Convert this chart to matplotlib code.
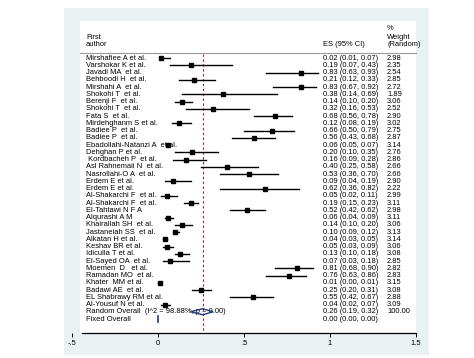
import numpy as np
import matplotlib
matplotlib.use('Agg')
import matplotlib.pyplot as plt
from matplotlib.patches import Rectangle, Polygon

plt.rcParams['font.family'] = ['Liberation Sans', 'DejaVu Sans']

# study data
authors = ['Mirshafiee A et al.', 'Varshokar K et al.', 'Javadi MA  et al.', 'Behboodi H  et al.',
           'Mirshahi A  et al.', 'Shokohi T  et al.', 'Berenji F  et al.', 'Shokohi T  et al.',
           'Fata S  et al.', 'Mirdehghanm S et al.', 'Badiee P  et al.', 'Badiee P  et al.',
           'Ebadollahi-Natanzi A  et al.', 'Dehghan P et al.', ' Kordbacheh P  et al.',
           'Asl Rahnemaii N  et al.', 'Nasrollahi-O A  et al.', 'Erdem E et al.', 'Erdem E et al.',
           'Al-Shakarchi F  et al.', 'Al-Shakarchi F  et al.', 'El-Tahtawi N F A', 'Alqurashi A M',
           'Khairallah SH  et al.', 'Jastaneiah SS  et al.', 'Alkatan H et al.', 'Keshav BR et al.',
           'Idiculla T et al.', 'El-Sayed OA  et al.', 'Moemen  D   et al.', 'Ramadan MO  et al.',
           'Khater  MM et al.', 'Badawi AE  et al.', 'EL Shabrawy RM et al.', 'Al-Yousuf N et al.']
es = [0.02, 0.19, 0.83, 0.21, 0.83, 0.38, 0.14, 0.32, 0.68, 0.12, 0.66, 0.56, 0.06, 0.20, 0.16,
      0.40, 0.53, 0.09, 0.62, 0.05, 0.19, 0.52, 0.06, 0.14, 0.10, 0.04, 0.05, 0.13, 0.07, 0.81,
      0.76, 0.01, 0.25, 0.55, 0.04]
lo = [0.01, 0.07, 0.63, 0.12, 0.67, 0.14, 0.10, 0.16, 0.56, 0.08, 0.50, 0.43, 0.05, 0.10, 0.09,
      0.25, 0.36, 0.04, 0.36, 0.02, 0.15, 0.42, 0.04, 0.10, 0.09, 0.03, 0.03, 0.10, 0.03, 0.68,
      0.63, 0.00, 0.20, 0.42, 0.02]
hi = [0.07, 0.43, 0.93, 0.33, 0.92, 0.69, 0.20, 0.53, 0.78, 0.19, 0.79, 0.68, 0.07, 0.35, 0.28,
      0.58, 0.70, 0.19, 0.82, 0.11, 0.23, 0.62, 0.09, 0.20, 0.12, 0.05, 0.09, 0.18, 0.18, 0.90,
      0.86, 0.01, 0.31, 0.67, 0.07]
weights = [2.98, 2.35, 2.54, 2.85, 2.72, 1.89, 3.06, 2.52, 2.90, 3.02, 2.75, 2.87, 3.14, 2.76,
           2.86, 2.66, 2.66, 2.90, 2.22, 2.99, 3.11, 2.98, 3.11, 3.06, 3.13, 3.14, 3.06, 3.08,
           2.85, 2.82, 2.83, 3.15, 3.08, 2.88, 3.09]

# pooled estimates
random_es, random_lo, random_hi = 0.26, 0.19, 0.32
fixed_es, fixed_lo, fixed_hi = 0.00, 0.00, 0.00
i2, pval = 98.88, 0.00

xticks = [-0.5, 0, 0.5, 1, 1.5]
xticklabels = ['-.5', '0', '.5', '1', '1.5']

# colours
panel_col = '#e9f1f3'
navy = '#1f3b7a'
red = '#a3243f'

fs = 5.4
fig = plt.figure(figsize=(4.74, 3.58), dpi=100)
# axes covers the light graph region (pixels 64..429 x 8..355)
ax = fig.add_axes([64 / 474, 1 - 355 / 358, (429 - 64) / 474, (355 - 8) / 358])
ax.set_facecolor(panel_col)

px0, pscale = 158.0, 172.0      # pixel of x=0, pixels per unit
row0, rstep = 58.0, 7.25        # pixel of first row, pixels per row
def xp(p):
    return (p - px0) / pscale
def yp(p):
    return (p - row0) / rstep

ax.set_xlim(xp(64), xp(429))
ax.set_ylim(yp(355), yp(8))

# white plot region
ax.add_patch(Rectangle((xp(80), yp(21)), xp(416) - xp(80), yp(333) - yp(21),
                       facecolor='white', edgecolor='none', zorder=0))

n = len(authors)
rows = np.arange(n)
r_rand = n
r_fixed = n + 1

# header
ax.text(xp(86), yp(37), 'First', fontsize=fs, va='center')
ax.text(xp(86), yp(44.5), 'author', fontsize=fs, va='center')
ax.text(xp(323), yp(44.5), 'ES (95% CI)', fontsize=fs, va='center')
ax.text(xp(387), yp(28.5), '%', fontsize=fs, va='center')
ax.text(xp(387), yp(37), 'Weight', fontsize=fs, va='center')
ax.text(xp(387), yp(44.5), '(Random)', fontsize=fs, va='center')
ax.plot([xp(80), xp(416)], [yp(53), yp(53)], color='#9a9a9a', lw=0.8)

# overall effect line
ax.plot([random_es, random_es], [yp(54), yp(333)], color=red, lw=0.8,
        ls=(0, (2.2, 2.2)), zorder=1)

# studies
for i in range(n):
    ax.plot([lo[i], hi[i]], [rows[i], rows[i]], color='black', lw=1.0, zorder=3)
    ax.plot(es[i], rows[i], marker='s', ms=2.4, color='black', zorder=4)
    ax.text(xp(86), rows[i], authors[i], fontsize=fs, va='center')
    ax.text(xp(323), rows[i], '%.2f (%.2f, %.2f)' % (es[i], lo[i], hi[i]), fontsize=fs, va='center')
    ax.text(xp(387), rows[i], '%.2f' % weights[i], fontsize=fs, va='center')

# random overall
ax.text(xp(86), r_rand, 'Random Overall  (I^2 = %.2f%%, p = %.2f)' % (i2, pval), fontsize=fs, va='center')
ax.text(xp(323), r_rand, '%.2f (%.2f, %.2f)' % (random_es, random_lo, random_hi), fontsize=fs, va='center')
ax.text(xp(387), r_rand, '100.00', fontsize=fs, va='center')
ax.add_patch(Polygon([(random_lo, r_rand), (random_es, r_rand - 0.42),
                      (random_hi, r_rand), (random_es, r_rand + 0.42)],
                     closed=True, facecolor='none', edgecolor=navy, lw=1.0, zorder=5))

# fixed overall
ax.text(xp(86), r_fixed, 'Fixed Overall', fontsize=fs, va='center')
ax.text(xp(323), r_fixed, '%.2f (%.2f, %.2f)' % (fixed_es, fixed_lo, fixed_hi), fontsize=fs, va='center')
ax.plot([fixed_es, fixed_es], [r_fixed - 0.4, r_fixed + 0.4], color=navy, lw=1.2, zorder=5)

# x axis
for s in ['top', 'left', 'right']:
    ax.spines[s].set_visible(False)
ax.spines['bottom'].set_position(('data', yp(333)))
ax.spines['bottom'].set_bounds(xp(82), 1.5)
ax.spines['bottom'].set_linewidth(0.9)
ax.set_xticks(xticks)
ax.set_xticklabels(xticklabels)
ax.tick_params(axis='x', labelsize=fs, length=3, width=0.7, pad=2)
ax.set_yticks([])

plt.savefig('out.png', dpi=100)
